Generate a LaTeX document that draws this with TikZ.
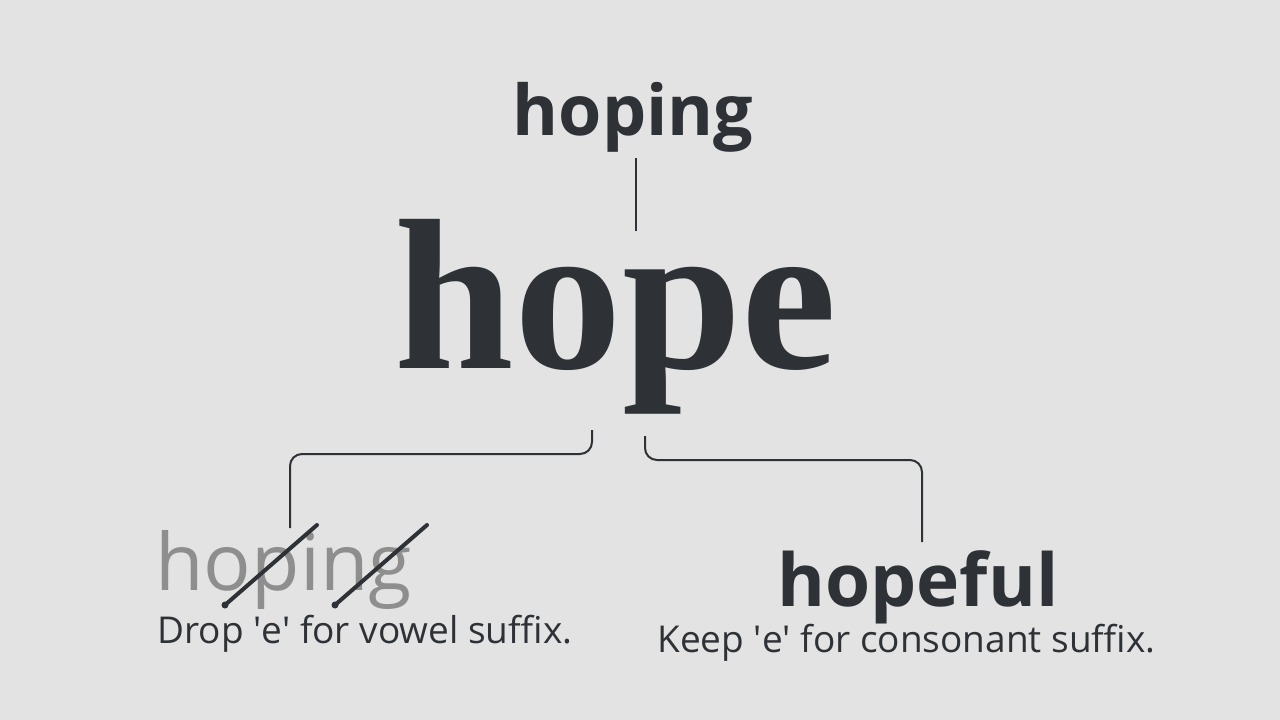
\documentclass[tikz,border=0pt]{standalone}
\usepackage{fontspec}
\setmainfont{Liberation Serif}
\setsansfont{Open Sans}
\definecolor{bg}{HTML}{E3E3E3}
\definecolor{ink}{HTML}{2E3136}
\definecolor{faded}{HTML}{8E8E8E}
\newcommand{\q}{\textquotesingle}
\begin{document}
\begin{tikzpicture}[x=1pt,y=-1pt,thick,
  root node/.style={inner sep=0pt,anchor=base,text=ink,font=\rmfamily\bfseries\fontsize{215}{215}\selectfont},
  word node/.style={inner sep=0pt,anchor=base west,text=ink,font=\sffamily\bfseries\fontsize{73}{73}\selectfont},
  note node/.style={inner sep=0pt,anchor=base west,text=ink,font=\sffamily\fontsize{37}{37}\selectfont},
  link/.style={draw=ink,line width=2pt,rounded corners=12pt},
  strike/.style={draw=ink,line width=4pt,line cap=round}]

  \fill[bg] (0,0) rectangle (1280,720);
  \useasboundingbox (0,0) rectangle (1280,720);

  \node[root node] (hope) at (616,368) {hope};
  \node[word node] [anchor=base,font=\sffamily\bfseries\fontsize{70}{70}\selectfont] (hopingtop) at (633,135) {hoping};

  \node[word node] [font=\sffamily\fontsize{79}{79}\selectfont,text=faded] (hopingold) at (155,590) {hoping};
  \node[note node] (drop) at (157,643) {Drop \q e\q{} for vowel suffix.};

  \node[word node] (hopeful) at (777,606) {hopeful};
  \node[note node] (keep) at (657,652) {Keep \q e\q{} for consonant suffix.};

  % connectors
  \coordinate (ltop) at (592,430);
  \coordinate (rtop) at (645,436);
  \draw[link] (636,158) -- (636,231);
  \draw[link] (ltop) |- (290,454) -- (290,528);
  \draw[link] (rtop) |- (922,460) -- (922,542);

  % crossing out
  \coordinate (s1a) at (225,605);
  \coordinate (s1b) at (317,525);
  \coordinate (s2a) at (335,605);
  \coordinate (s2b) at (427,525);
  \draw[strike] (s1a) -- (s1b);
  \draw[strike] (s2a) -- (s2b);
  \fill[ink] (s1a) circle (3.5pt) (s2a) circle (3.5pt);
\end{tikzpicture}
\end{document}
